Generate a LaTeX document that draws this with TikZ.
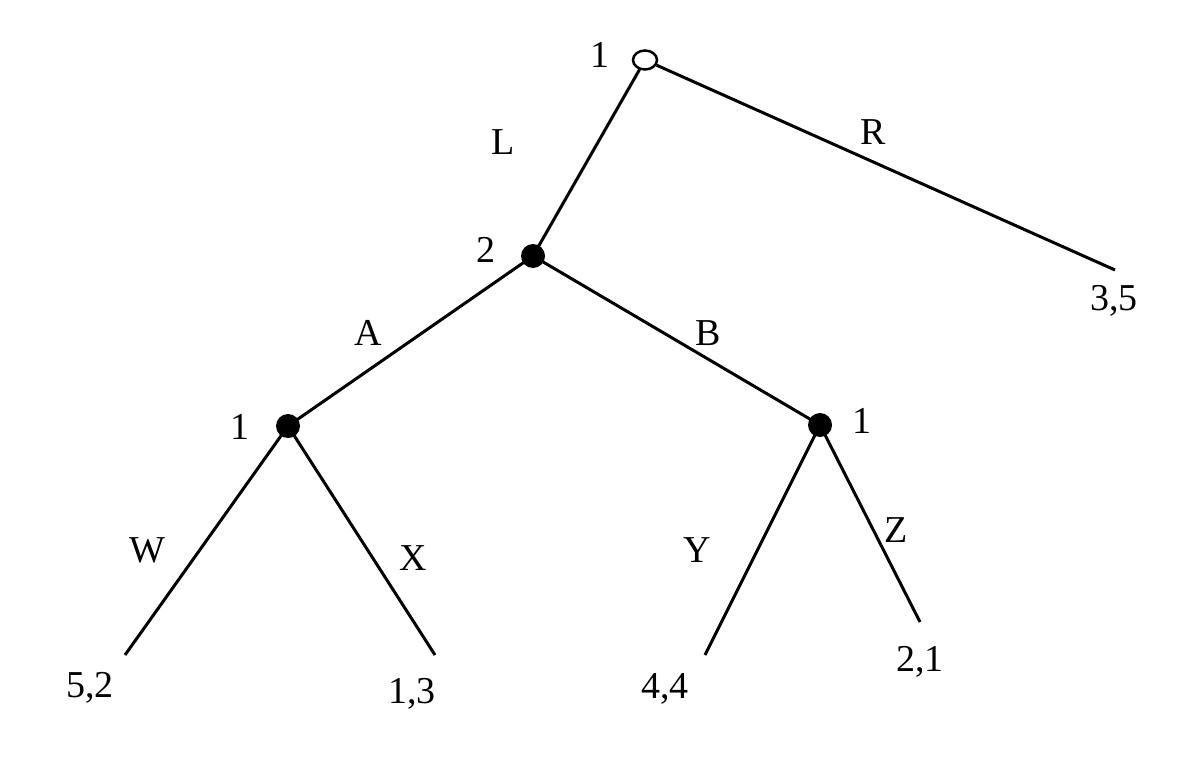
\documentclass[tikz,border=0pt]{standalone}
\usepackage{fontspec}
\setmainfont{Liberation Serif}
\usetikzlibrary{shapes.geometric}
\begin{document}
\begin{tikzpicture}[x=1pt,y=-1pt,
  lbl/.style={font=\fontsize{38}{44}\selectfont,inner sep=0pt},
  dec/.style={circle,fill=black,minimum size=24pt,inner sep=0pt},
  edge/.style={line width=3pt}]
\useasboundingbox (0,0) rectangle (1186,776);
\node[ellipse,draw,line width=2.5pt,minimum width=24pt,minimum height=19pt,inner sep=0pt] (r) at (645,60) {};
\node[dec] (n2) at (533,256) {};
\node[dec] (n1a) at (288,426) {};
\node[dec] (n1b) at (820,425) {};
\coordinate (eR) at (1115,270);
\coordinate (eW) at (125,655);
\coordinate (eX) at (435,655);
\coordinate (eY) at (705,655);
\coordinate (eZ) at (920,622);
\draw[edge] (r) -- (n2.center);
\draw[edge] (r) -- (eR);
\draw[edge] (n2.center) -- (n1a.center);
\draw[edge] (n2.center) -- (n1b.center);
\draw[edge] (n1a.center) -- (eW);
\draw[edge] (n1a.center) -- (eX);
\draw[edge] (n1b.center) -- (eY);
\draw[edge] (n1b.center) -- (eZ);
\node[lbl] (t1) at (600,55) {1};
\node[lbl] (tL) at (503,142) {L};
\node[lbl] (tR) at (873,132) {R};
\node[lbl] (t2) at (486,250) {2};
\node[lbl] (t35) at (1114,301) {3,5};
\node[lbl] (t1a) at (240,427) {1};
\node[lbl] (tA) at (368,333) {A};
\node[lbl] (tB) at (708,333) {B};
\node[lbl] (t1b) at (862,421) {1};
\node[lbl] (tW) at (147,550) {W};
\node[lbl] (tX) at (413,558) {X};
\node[lbl] (tY) at (697,550) {Y};
\node[lbl] (tZ) at (896,530) {Z};
\node[lbl] (t52) at (90,688) {5,2};
\node[lbl] (t13) at (412,694) {1,3};
\node[lbl] (t44) at (665,689) {4,4};
\node[lbl] (t21) at (920,662) {2,1};
\end{tikzpicture}
\end{document}
